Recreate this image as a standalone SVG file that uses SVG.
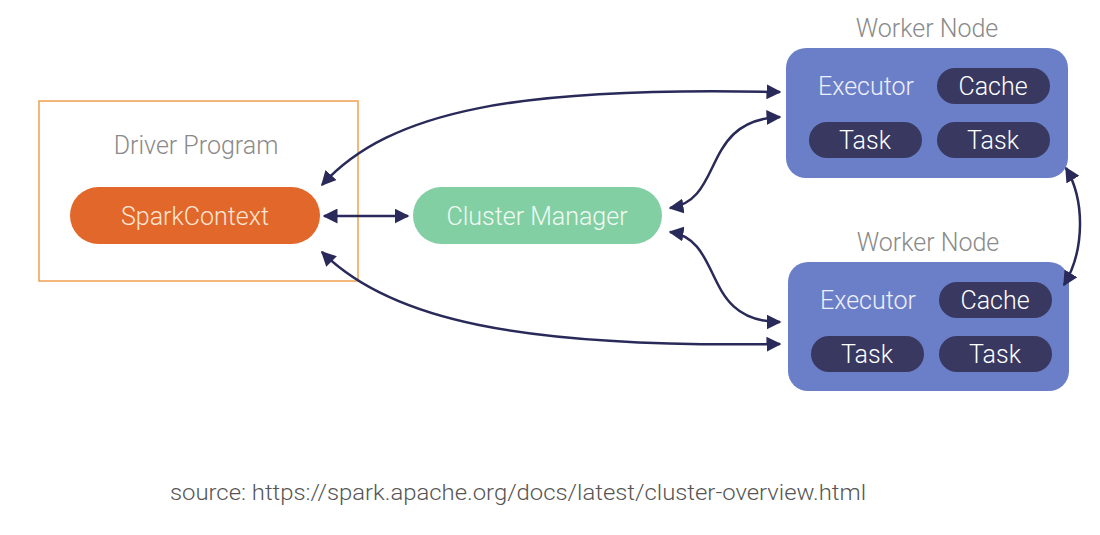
<svg xmlns="http://www.w3.org/2000/svg" width="1100" height="535" viewBox="0 0 1100 535">
<defs>
<marker id="ah" viewBox="0 0 10 10" refX="9" refY="5" markerWidth="6" markerHeight="6" orient="auto-start-reverse" markerUnits="strokeWidth">
<path d="M0,0 L10,5 L0,10 z" fill="#2a2a5a"/>
</marker>
<style>
text{font-family:Roboto,"Liberation Sans",sans-serif;font-weight:300}
.t{font-size:25px;text-anchor:middle;dominant-baseline:central}
.title{fill:#8a8a8a}
.in{fill:#383861}
.w{fill:#6b7fc8}
.c{fill:none;stroke:#2a2a5a;stroke-width:2.5;marker-start:url(#ah);marker-end:url(#ah)}
</style>
</defs>
<rect width="1100" height="535" fill="#fff"/>
<g id="driver">
<rect x="39" y="101" width="319" height="180" fill="none" stroke="#f0a050" stroke-width="1.5"/>
<text class="t title" x="196" y="145">Driver Program</text>
</g>
<g id="sparkcontext">
<rect x="70" y="187" width="250" height="57" rx="28.5" fill="#e2672a"/>
<text class="t" x="195" y="216" fill="#fbe6d6">SparkContext</text>
</g>
<g id="clustermanager">
<rect x="413" y="187" width="249" height="57" rx="28.5" fill="#82cfa3"/>
<text class="t" x="537" y="216" fill="#f0faf4">Cluster Manager</text>
</g>
<g id="worker1">
<text class="t title" x="927" y="28">Worker Node</text>
<rect class="w" x="786" y="48" width="282" height="130" rx="20"/>
<text class="t" x="866" y="86" fill="#eef0fa">Executor</text>
<rect class="in" x="937" y="68" width="113" height="36" rx="18"/>
<text class="t" x="993" y="86" fill="#fff">Cache</text>
<rect class="in" x="809" y="122" width="113" height="36" rx="18"/>
<text class="t" x="865" y="140" fill="#fff">Task</text>
<rect class="in" x="937" y="122" width="113" height="36" rx="18"/>
<text class="t" x="993" y="140" fill="#fff">Task</text>
</g>
<g id="worker2">
<text class="t title" x="928" y="242">Worker Node</text>
<rect class="w" x="788" y="262" width="281" height="129" rx="20"/>
<text class="t" x="868" y="300" fill="#eef0fa">Executor</text>
<rect class="in" x="939" y="282" width="113" height="36" rx="18"/>
<text class="t" x="995" y="300" fill="#fff">Cache</text>
<rect class="in" x="811" y="336" width="113" height="36" rx="18"/>
<text class="t" x="867" y="354" fill="#fff">Task</text>
<rect class="in" x="939" y="336" width="113" height="36" rx="18"/>
<text class="t" x="995" y="354" fill="#fff">Task</text>
</g>
<g id="connectors">
<path class="c" d="M780 92 C 520 86, 390 110, 322 185"/>
<path class="c" d="M324 216 L 408 216"/>
<path class="c" d="M670 208 C 725 200, 700 120, 780 117"/>
<path class="c" d="M670 232 C 725 240, 700 322, 780 322"/>
<path class="c" d="M780 344 C 520 348, 390 320, 322 252"/>
<path class="c" d="M1066 168 C 1085 200, 1085 250, 1064 285"/>
</g>
<text x="170" y="500" font-size="22" fill="#555" textLength="696" lengthAdjust="spacingAndGlyphs">source: https://spark.apache.org/docs/latest/cluster-overview.html</text>
</svg>
